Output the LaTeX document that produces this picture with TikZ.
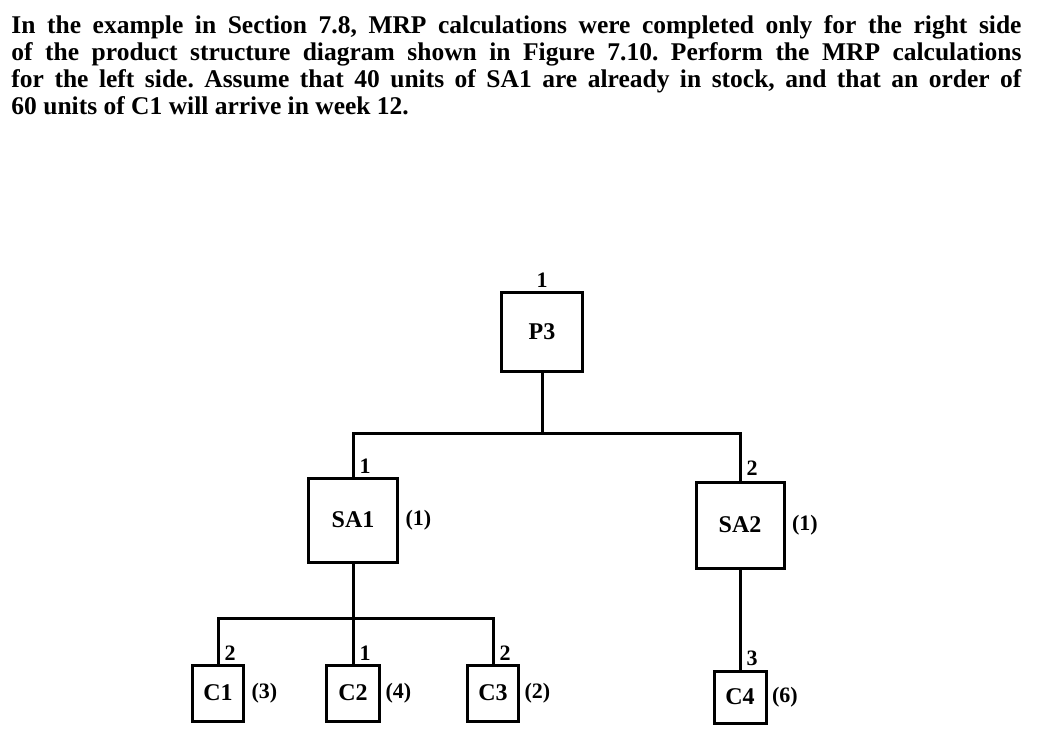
\documentclass[tikz,border=0pt]{standalone}
\usepackage{fontspec}
\setmainfont{Liberation Serif}
\begin{document}
\frenchspacing
\begin{tikzpicture}[x=1pt,y=-1pt,line width=3pt,
  box/.style={draw,line width=3pt,inner sep=0pt,font=\bfseries\fontsize{24}{26}\selectfont},
  lbl/.style={font=\bfseries\fontsize{22}{24}\selectfont,inner sep=1pt}]
\useasboundingbox (0,0) rectangle (1038,732);
\node[anchor=north west,text width=1010pt,align=justify,inner sep=0pt,font=\bfseries\fontsize{25.5}{27}\selectfont] (txt) at (10,14)
{In the example in Section 7.8, MRP calculations were completed only for the right side\linebreak of the product structure diagram shown in Figure 7.10. Perform the MRP calculations\linebreak for the left side. Assume that 40 units of SA1 are already in stock, and that an order of\linebreak 60 units of C1 will arrive in week 12.\par};
\node[box,minimum width=81pt,minimum height=79pt] (p3) at (542,332) {P3};
\node[box,minimum width=89pt,minimum height=84pt] (sa1) at (353,520) {SA1};
\node[box,minimum width=88pt,minimum height=86pt] (sa2) at (740,525) {SA2};
\node[box,minimum width=51pt,minimum height=56pt] (c1) at (218,693) {C1};
\node[box,minimum width=53pt,minimum height=56pt] (c2) at (353,693) {C2};
\node[box,minimum width=51pt,minimum height=56pt] (c3) at (493,693) {C3};
\node[box,minimum width=52pt,minimum height=52pt] (c4) at (740,697) {C4};
\coordinate (h1) at (542,433);
\coordinate (h2) at (353,618);
\draw (p3.south) -- (h1);
\draw (sa1.north) |- (h1) -| (sa2.north);
\draw (sa1.south) -- (h2);
\draw (c1.north) |- (h2) -| (c3.north);
\draw (h2) -- (c2.north);
\draw (sa2.south) -- (c4.north);
\node[lbl,anchor=south] (l0) at (542,290) {1};
\node[lbl,anchor=south west] (l1) at (357,476) {1};
\node[lbl,anchor=south west] (l2) at (744,478) {2};
\node[lbl,anchor=south west] (l3) at (222,663) {2};
\node[lbl,anchor=south west] (l4) at (357,663) {1};
\node[lbl,anchor=south west] (l5) at (497,663) {2};
\node[lbl,anchor=south west] (l6) at (744,668) {3};
\node[lbl,anchor=west] (q1) at ([xshift=4pt]sa1.east) {(1)};
\node[lbl,anchor=west] (q2) at ([xshift=4pt]sa2.east) {(1)};
\node[lbl,anchor=west] (q3) at ([xshift=4pt]c1.east) {(3)};
\node[lbl,anchor=west] (q4) at ([xshift=2pt]c2.east) {(4)};
\node[lbl,anchor=west] (q5) at ([xshift=2pt]c3.east) {(2)};
\node[lbl,anchor=west] (q6) at ([xshift=2pt]c4.east) {(6)};
\end{tikzpicture}
\end{document}
